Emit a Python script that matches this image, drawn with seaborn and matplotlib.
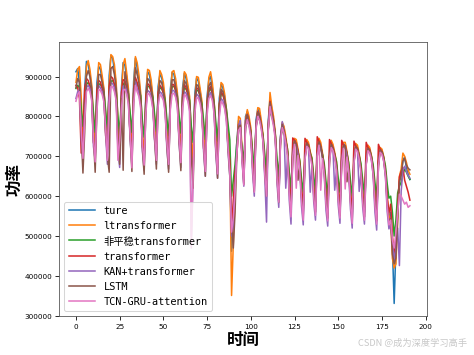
import numpy as np
import pandas as pd
import matplotlib
matplotlib.use("Agg")
import matplotlib.pyplot as plt
import seaborn as sns
from matplotlib.font_manager import FontProperties

# values in thousands (kW), one row per week of 7 points
ture = [
    912, 920, 886, 790, 712, 868, 938,
    930, 905, 872, 760, 698, 885, 925,
    918, 890, 866, 782, 705, 902, 952,
    946, 915, 878, 758, 692, 870, 935,
    928, 898, 862, 775, 700, 888, 946,
    922, 892, 850, 742, 688, 862, 912,
    905, 880, 845, 770, 702, 875, 905,
    898, 872, 838, 748, 690, 868, 910,
    906, 884, 852, 760, 695, 872, 908,
    895, 870, 840, 720, 676, 858, 896,
    888, 862, 830, 745, 680, 850, 892,
    900, 872, 835, 738, 672, 846, 880,
    872, 850, 815, 740, 680, 462, 560,
    640, 735, 790, 782, 705, 640, 800,
    812, 790, 765, 690, 625, 792, 818,
    810, 782, 748, 672, 612, 790, 845,
    820, 792, 755, 660, 598, 752, 782,
    770, 742, 712, 625, 572, 715, 742,
    735, 712, 680, 608, 562, 705, 738,
    730, 706, 690, 615, 575, 712, 740,
    728, 702, 668, 596, 556, 700, 735,
    725, 705, 678, 605, 565, 698, 730,
    730, 708, 672, 598, 552, 695, 728,
    722, 700, 670, 600, 560, 692, 725,
    718, 698, 665, 592, 548, 688, 720,
    715, 695, 662, 590, 545, 560, 470,
    331, 470, 560, 640, 655, 690, 698,
    672, 655, 642,
]
ltransformer = [
    885, 918, 925, 850, 735, 790, 925,
    940, 918, 880, 800, 705, 845, 935,
    930, 902, 870, 800, 715, 880, 955,
    950, 930, 885, 790, 700, 845, 930,
    945, 910, 870, 795, 705, 860, 950,
    935, 905, 860, 770, 695, 840, 918,
    915, 892, 850, 790, 710, 855, 915,
    905, 885, 845, 770, 700, 845, 912,
    915, 895, 860, 780, 705, 850, 912,
    905, 880, 850, 750, 690, 835, 900,
    898, 870, 840, 765, 690, 830, 898,
    912, 885, 840, 760, 685, 825, 885,
    880, 858, 820, 760, 690, 351, 480,
    600, 720, 800, 795, 720, 650, 790,
    817, 800, 772, 705, 640, 775, 822,
    820, 790, 755, 690, 625, 770, 860,
    825, 800, 760, 675, 610, 735, 785,
    775, 750, 718, 640, 585, 700, 745,
    742, 718, 688, 620, 572, 692, 742,
    735, 712, 695, 628, 582, 700, 745,
    735, 708, 675, 610, 565, 688, 740,
    730, 710, 685, 618, 572, 685, 735,
    735, 712, 680, 612, 562, 682, 732,
    728, 706, 675, 612, 568, 680, 728,
    722, 702, 670, 605, 558, 675, 722,
    718, 700, 668, 602, 552, 540, 444,
    420, 430, 540, 650, 668, 708, 700,
    685, 665, 655,
]
nonstat_transformer = [
    870, 878, 872, 820, 775, 845, 880,
    885, 878, 862, 810, 760, 852, 882,
    880, 872, 860, 815, 765, 862, 888,
    890, 880, 865, 800, 755, 848, 880,
    886, 875, 858, 808, 760, 858, 890,
    882, 870, 852, 790, 748, 842, 875,
    875, 865, 848, 805, 762, 850, 872,
    870, 860, 842, 795, 752, 845, 874,
    876, 866, 850, 802, 758, 848, 872,
    868, 858, 840, 775, 735, 838, 866,
    864, 852, 832, 790, 742, 832, 862,
    870, 858, 835, 785, 738, 828, 855,
    855, 842, 820, 780, 742, 600, 640,
    680, 735, 770, 765, 720, 690, 772,
    790, 780, 762, 715, 672, 775, 795,
    792, 775, 752, 705, 660, 770, 815,
    800, 782, 755, 695, 650, 742, 768,
    758, 740, 718, 660, 620, 712, 735,
    728, 712, 690, 645, 610, 702, 728,
    725, 708, 695, 650, 615, 708, 730,
    722, 705, 682, 638, 602, 698, 725,
    720, 705, 688, 645, 610, 696, 722,
    722, 708, 684, 640, 600, 694, 720,
    718, 702, 682, 640, 605, 690, 718,
    715, 700, 678, 635, 598, 686, 714,
    712, 698, 676, 632, 595, 600, 560,
    500, 540, 608, 625, 635, 655, 668,
    660, 650, 642,
]
transformer = [
    878, 872, 845, 708, 745, 872, 895,
    890, 875, 850, 735, 715, 868, 890,
    886, 870, 845, 752, 720, 875, 900,
    896, 880, 850, 730, 705, 860, 892,
    890, 874, 845, 748, 712, 870, 898,
    885, 868, 838, 725, 702, 850, 882,
    878, 862, 832, 742, 715, 860, 878,
    872, 858, 825, 730, 705, 852, 880,
    880, 865, 838, 738, 708, 855, 880,
    872, 855, 828, 690, 665, 842, 872,
    868, 850, 820, 720, 692, 838, 868,
    875, 856, 825, 715, 685, 832, 862,
    855, 838, 808, 718, 690, 520, 590,
    660, 700, 780, 778, 700, 650, 790,
    805, 788, 760, 685, 640, 782, 812,
    802, 780, 745, 668, 625, 780, 838,
    812, 788, 752, 655, 610, 748, 778,
    762, 740, 712, 625, 590, 746, 740,
    732, 712, 682, 612, 578, 745, 735,
    728, 706, 688, 618, 585, 749, 738,
    725, 702, 670, 602, 570, 742, 732,
    722, 704, 676, 608, 578, 740, 728,
    726, 706, 672, 602, 568, 738, 726,
    720, 700, 670, 605, 572, 735, 722,
    716, 698, 665, 598, 562, 730, 718,
    712, 695, 662, 596, 558, 580, 500,
    455, 480, 575, 648, 662, 672, 640,
    625, 610, 590,
]
kan_transformer = [
    845, 862, 868, 745, 690, 810, 872,
    878, 870, 845, 725, 690, 830, 878,
    872, 862, 842, 752, 680, 848, 885,
    882, 872, 845, 720, 672, 830, 876,
    876, 864, 836, 742, 678, 845, 888,
    870, 858, 828, 712, 665, 822, 865,
    862, 852, 822, 738, 680, 838, 862,
    858, 848, 815, 718, 668, 830, 865,
    865, 855, 830, 730, 672, 835, 862,
    858, 845, 818, 500, 640, 820, 856,
    852, 840, 810, 712, 650, 815, 852,
    860, 846, 812, 705, 645, 810, 845,
    840, 826, 795, 710, 650, 500, 520,
    620, 718, 775, 790, 690, 625, 785,
    800, 782, 752, 660, 600, 780, 808,
    798, 772, 738, 645, 535, 775, 832,
    808, 785, 748, 632, 572, 745, 787,
    765, 620, 700, 590, 530, 705, 735,
    728, 705, 670, 575, 528, 698, 730,
    722, 610, 680, 585, 540, 705, 732,
    720, 695, 655, 565, 525, 690, 728,
    716, 615, 666, 578, 532, 688, 724,
    722, 700, 660, 568, 520, 686, 722,
    714, 612, 658, 572, 530, 682, 718,
    710, 690, 652, 560, 515, 678, 714,
    708, 688, 650, 562, 518, 530, 480,
    440, 470, 520, 426, 612, 665, 675,
    662, 652, 645,
]
lstm = [
    872, 895, 885, 760, 658, 760, 900,
    915, 900, 868, 750, 660, 820, 905,
    905, 885, 862, 760, 700, 660, 920,
    925, 905, 870, 742, 680, 845, 665,
    912, 890, 855, 750, 662, 845, 922,
    905, 885, 845, 722, 655, 820, 895,
    890, 872, 838, 745, 668, 838, 890,
    885, 865, 830, 728, 660, 830, 892,
    892, 875, 845, 740, 664, 835, 890,
    882, 865, 832, 705, 620, 820, 880,
    876, 855, 822, 725, 650, 815, 876,
    885, 862, 828, 718, 645, 810, 868,
    862, 845, 810, 722, 650, 540, 470,
    560, 700, 775, 778, 698, 630, 780,
    805, 786, 758, 676, 612, 772, 810,
    802, 776, 742, 660, 600, 768, 835,
    812, 788, 750, 648, 585, 738, 780,
    765, 740, 708, 615, 560, 702, 738,
    730, 640, 676, 598, 552, 695, 733,
    726, 702, 686, 605, 560, 702, 736,
    724, 698, 664, 588, 545, 690, 730,
    720, 700, 674, 596, 552, 688, 726,
    726, 636, 668, 590, 540, 686, 724,
    718, 696, 666, 592, 548, 682, 720,
    714, 694, 660, 585, 538, 678, 716,
    710, 692, 658, 582, 535, 545, 455,
    430, 445, 545, 635, 652, 688, 695,
    678, 670, 666,
]
tcn_gru_attention = [
    838, 855, 862, 770, 695, 790, 862,
    870, 862, 840, 745, 686, 815, 868,
    865, 855, 836, 768, 690, 832, 875,
    874, 862, 840, 690, 740, 818, 866,
    868, 856, 830, 755, 671, 832, 878,
    862, 850, 822, 730, 678, 810, 858,
    855, 845, 818, 752, 690, 825, 855,
    850, 840, 810, 735, 680, 818, 856,
    858, 848, 822, 745, 684, 822, 855,
    850, 838, 812, 470, 650, 808, 848,
    845, 832, 804, 728, 662, 802, 845,
    852, 840, 806, 720, 656, 798, 838,
    832, 820, 790, 722, 660, 510, 545,
    610, 705, 765, 772, 690, 628, 772,
    792, 775, 748, 672, 610, 768, 800,
    790, 768, 735, 655, 600, 765, 825,
    798, 775, 742, 645, 585, 735, 772,
    758, 732, 700, 605, 548, 700, 730,
    620, 702, 668, 590, 540, 692, 725,
    720, 698, 676, 598, 552, 700, 728,
    615, 694, 656, 580, 538, 686, 722,
    714, 696, 664, 590, 545, 684, 720,
    618, 698, 660, 582, 532, 682, 718,
    712, 692, 658, 585, 540, 678, 714,
    708, 690, 654, 578, 530, 675, 710,
    705, 688, 652, 575, 528, 540, 490,
    470, 510, 560, 605, 600, 590, 580,
    585, 572, 576,
]

labels = ["ture", "ltransformer", "非平稳transformer", "transformer",
          "KAN+transformer", "LSTM", "TCN-GRU-attention"]
series = [ture, ltransformer, nonstat_transformer, transformer,
          kan_transformer, lstm, tcn_gru_attention]
colors = sns.color_palette("tab10", 7)

fig, ax = plt.subplots(figsize=(6.4, 4.8), dpi=74.0625)
for lab, vals, col in zip(labels, series, colors):
    y = np.array(vals, dtype=float) * 1000
    x = np.arange(len(y))
    sns.lineplot(x=x, y=y, ax=ax, color=col, label=lab, linewidth=1.5)

cjk = ["Noto Sans CJK SC", "DejaVu Sans"]
ax.set_xlabel("时间", fontsize=16, family=cjk, fontweight="bold", labelpad=1)
ax.set_ylabel("功率", fontsize=16, family=cjk, fontweight="bold", labelpad=1)
ax.tick_params(labelsize=7)
ax.set_xticks([0, 25, 50, 75, 100, 125, 150, 175, 200])
ax.set_yticks([300000, 400000, 500000, 600000, 700000, 800000, 900000])
for s in ax.spines.values():
    s.set_color("#555555")

leg_font = FontProperties(family=["DejaVu Sans Mono", "Noto Sans CJK SC"], size=10)
ax.legend(loc="lower left", prop=leg_font, handlelength=2.6)

fig.text(0.985, 0.022, "CSDN @成为深度学习高手", ha="right", va="bottom",
         fontsize=9, color="#c8c8c8", family=cjk)

fig.savefig("out.png", dpi=74.0625)
